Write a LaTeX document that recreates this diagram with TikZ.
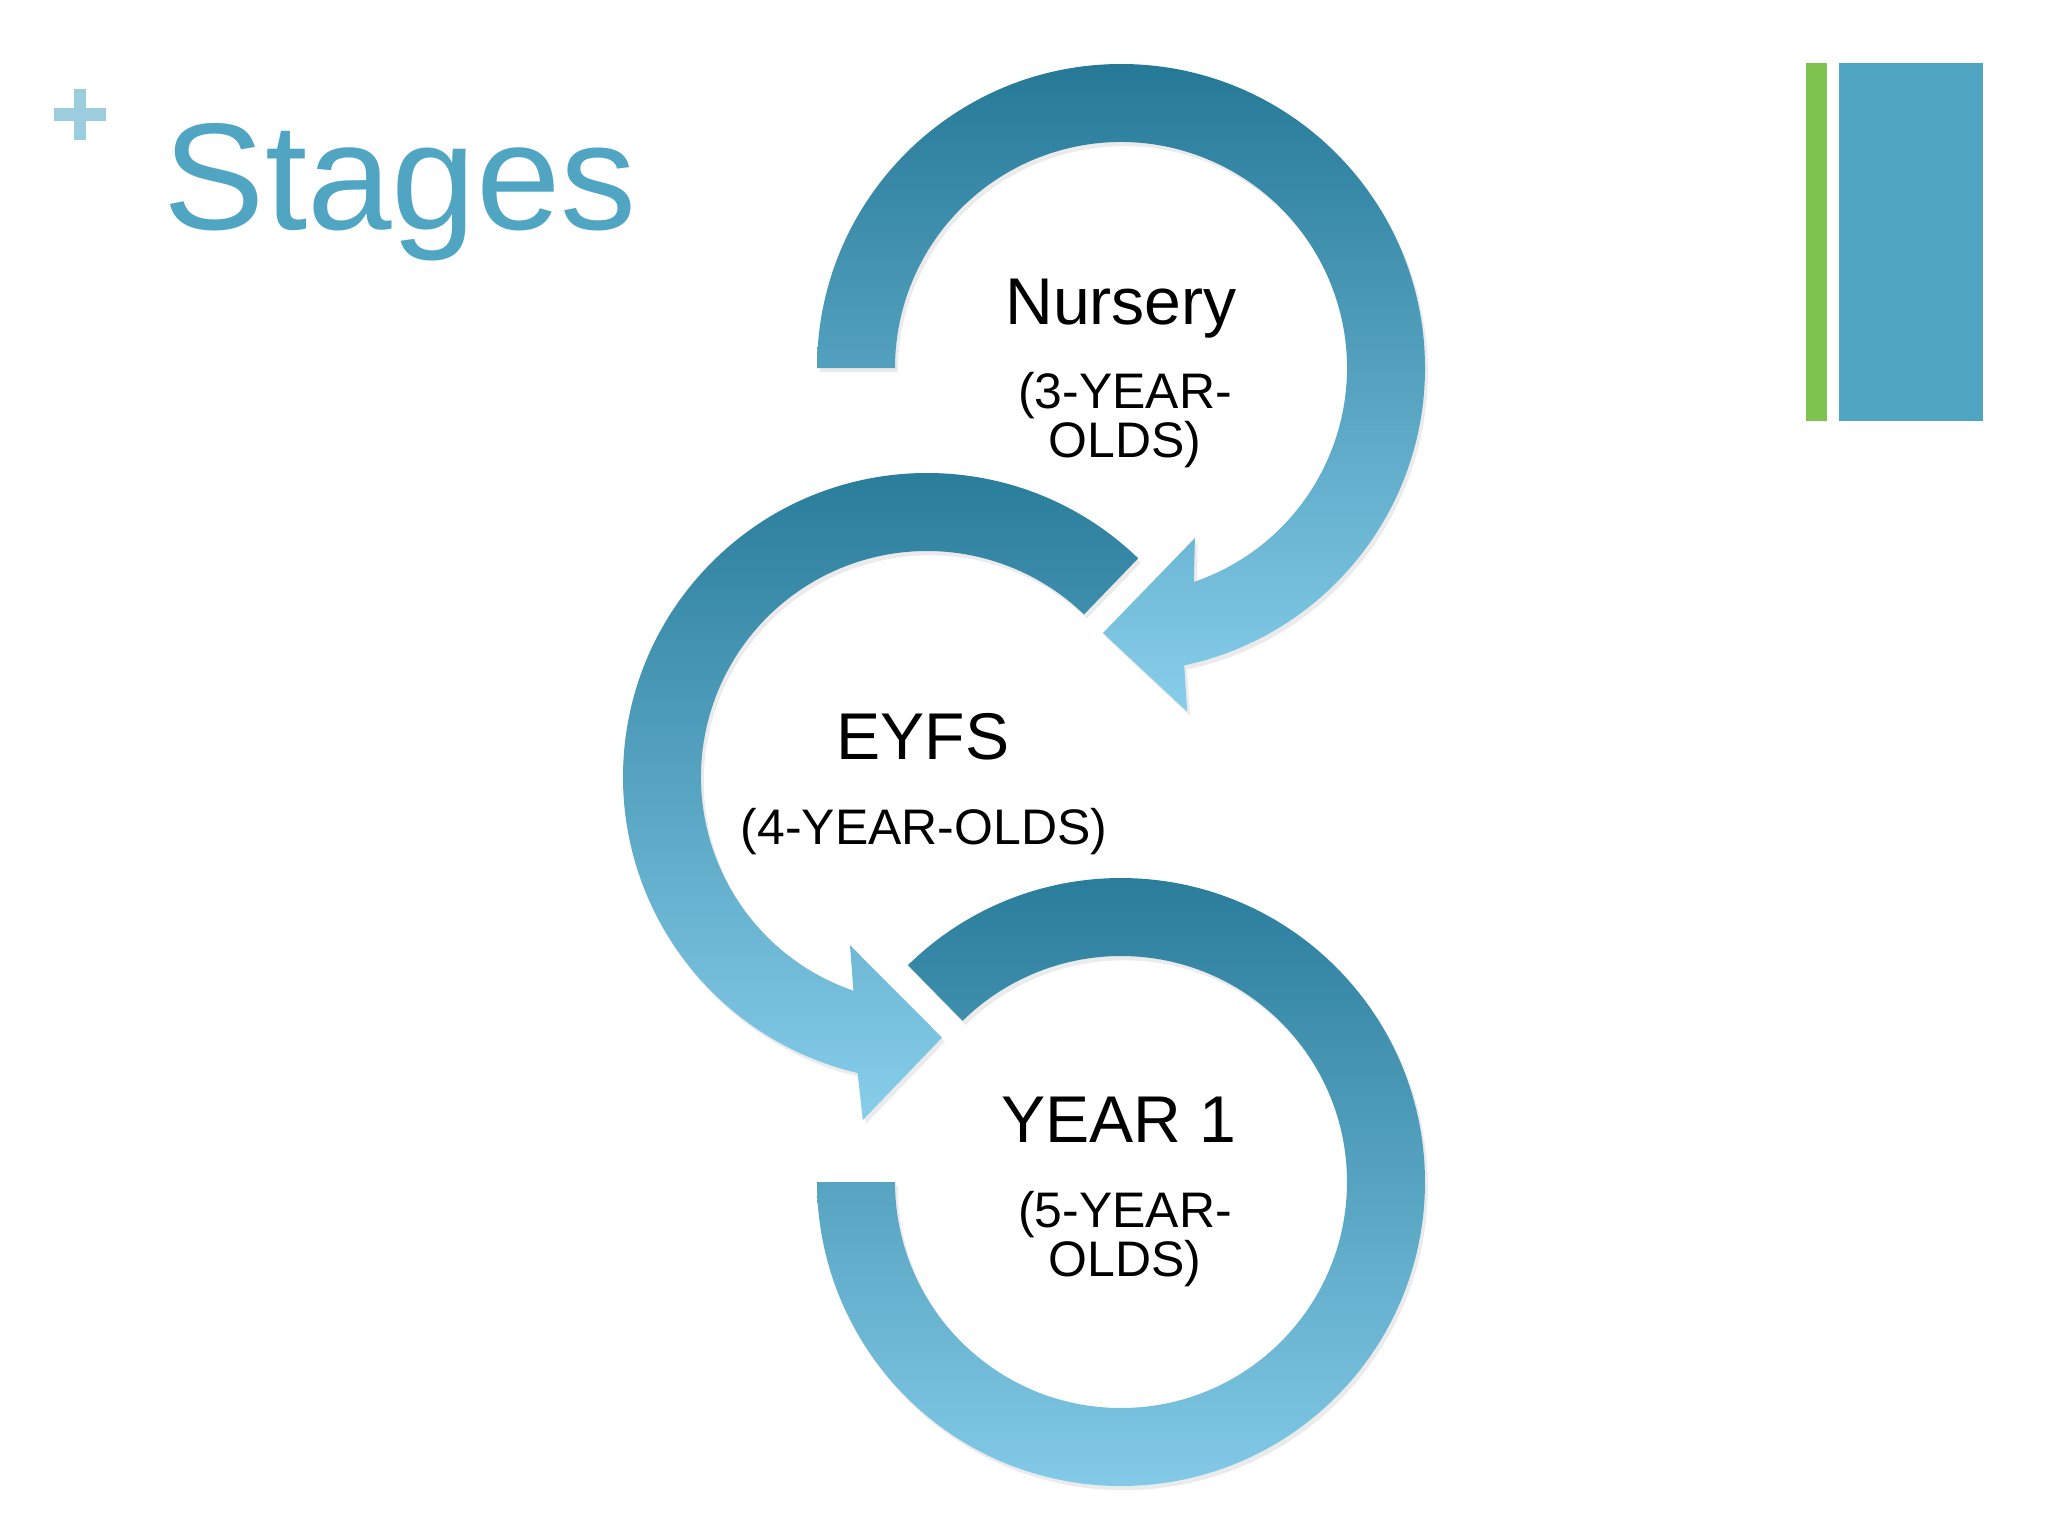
\documentclass[tikz,border=0pt]{standalone}
\usepackage{fontspec}
\setmainfont{Liberation Sans}
\usepackage{tikz}
\usetikzlibrary{calc, positioning}
\definecolor{stgblue}{RGB}{80,165,195}
\definecolor{stgpale}{RGB}{155,205,222}
\definecolor{stggreen}{RGB}{126,194,80}
\definecolor{stgdark}{RGB}{37,121,151}
\definecolor{stglight}{RGB}{135,206,235}
\tikzset{
  %% ---- ring arrows ----
  stagearc/.style  = {top color=stgdark, bottom color=stglight,
                      preaction={fill=black, opacity=0.08,
                                 transform canvas={xshift=0.8pt, yshift=-1.2pt}}},
  %% ---- labels ----
  stagename/.style = {anchor=base, inner sep=0pt,
                      font=\fontsize{18.8}{22}\selectfont},
  stageage/.style  = {anchor=base, inner sep=0pt, align=center,
                      font=\fontsize{14.2}{13.8}\selectfont},
}

\begin{document}
\begin{tikzpicture}[x=0.01cm, y=0.01cm]
\useasboundingbox (0,0) rectangle (2048,-1536);
\fill[white] (0,0) rectangle (2048,-1536);

%% ---- header ----
\fill[stgpale] (54,-108) rectangle (106,-121);
\fill[stgpale] (74,-89) rectangle (86,-140);
\node[anchor=base west, inner sep=0pt, text=stgblue,
      font=\fontsize{43.2}{50}\selectfont] (title) at (163,-229) {Stages};
\fill[stggreen] (1806,-63) rectangle (1827,-421);
\fill[stgblue]  (1839,-63) rectangle (1983,-421);

%% ---- ring centres ----
\coordinate (ctop) at (1121,-368);
\coordinate (cmid) at (927,-777);
\coordinate (cbot) at (1121,-1182);

%% ---- rings ----
\shade[stagearc] ($(cbot)+(134.5:304)$) arc[start angle=134.5, end angle=-180, radius=304]
  -- ($(cbot)+(180:226)$) arc[start angle=-180, end angle=134.5, radius=226] -- cycle;

\shade[stagearc] ($(cmid)+(46:304)$) arc[start angle=46, end angle=256.8, radius=304]
  -- ($(cmid)+(259.4:349)$) -- ($(cmid)+(273.3:261)$) -- ($(cmid)+(245.4:185)$)
  -- ($(cmid)+(251:226)$) arc[start angle=251, end angle=46, radius=226] -- cycle;

\shade[stagearc] ($(ctop)+(180:304)$) arc[start angle=180, end angle=-78, radius=304]
  -- ($(ctop)+(-79.1:350)$) -- ($(ctop)+(-93.9:265.6)$) -- ($(ctop)+(-66.5:185.4)$)
  -- ($(ctop)+(-71.2:226)$) arc[start angle=-71.2, end angle=180, radius=226] -- cycle;

%% ---- labels ----
\node[stagename] (nursery)    at ($(ctop)+(0,44)$)  {Nursery};
\node[stageage]  (nurseryage) at ($(ctop)+(4,-89)$) {(3-YEAR-\\OLDS)};
\node[stagename] (eyfs)       at ($(cmid)+(-4,18)$) {EYFS};
\node[stageage]  (eyfsage)    at ($(cmid)+(-3,-67)$) {(4-YEAR-OLDS)};
\node[stagename] (yearone)    at ($(cbot)+(-2,40)$) {YEAR 1};
\node[stageage]  (yearoneage) at ($(cbot)+(4,-94)$) {(5-YEAR-\\OLDS)};
\end{tikzpicture}
\end{document}
